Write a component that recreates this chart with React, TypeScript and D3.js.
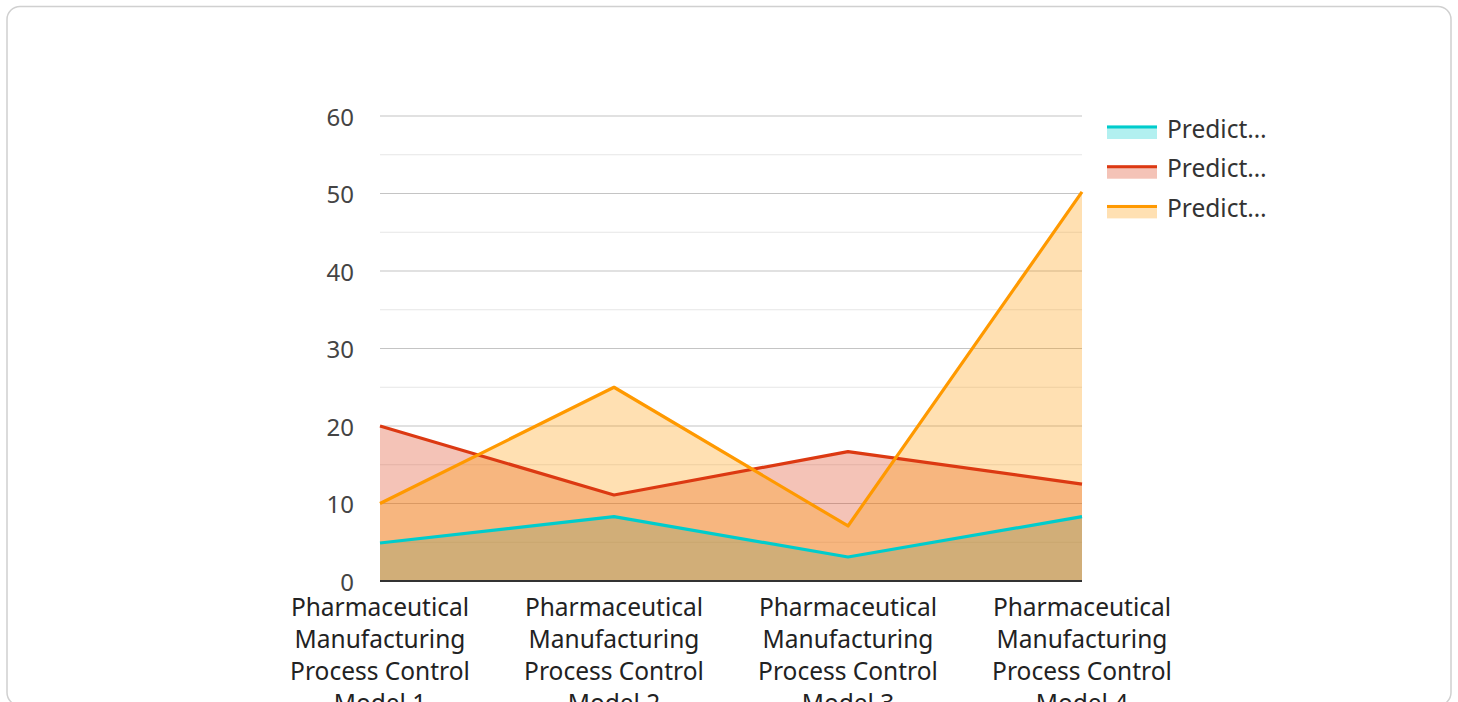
import React from "react";
import * as d3 from "d3";

const categories = [
  "Pharmaceutical Manufacturing Process Control Model 1",
  "Pharmaceutical Manufacturing Process Control Model 2",
  "Pharmaceutical Manufacturing Process Control Model 3",
  "Pharmaceutical Manufacturing Process Control Model 4",
];
const categoryLines = [
  ["Pharmaceutical", "Manufacturing", "Process Control", "Model 1"],
  ["Pharmaceutical", "Manufacturing", "Process Control", "Model 2"],
  ["Pharmaceutical", "Manufacturing", "Process Control", "Model 3"],
  ["Pharmaceutical", "Manufacturing", "Process Control", "Model 4"],
];
const seriesNames = ["Predicted 1", "Predicted 2", "Predicted 3"];
const seriesA = [4.9, 8.3, 3.1, 8.3];
const seriesB = [20, 11.1, 16.7, 12.5];
const seriesC = [10, 25, 7.1, 50.2];
const seriesColors = ["#00cccc", "#dc3912", "#ff9900"];
const yTicks = [0, 10, 20, 30, 40, 50, 60];
const yMinorTicks = [5, 15, 25, 35, 45, 55];

const W = 1458;
const H = 720;
const left = 380;
const right = 1082;
const top = 116;
const bottom = 581;
const font = "'Noto Sans', 'Open Sans', sans-serif";

export default function App() {
  const x = d3.scalePoint<number>().domain([0, 1, 2, 3]).range([left, right]);
  const y = d3.scaleLinear().domain([0, 60]).range([bottom, top]);
  const series = [seriesA, seriesB, seriesC];
  const area = d3
    .area<number>()
    .x((_, i) => x(i) as number)
    .y0(y(0))
    .y1((d) => y(d));
  const line = d3
    .line<number>()
    .x((_, i) => x(i) as number)
    .y((d) => y(d));

  return (
    <svg
      width={W}
      height={H}
      style={{ position: "absolute", left: 0, top: 0, fontFamily: font }}
    >
      <rect x={0} y={0} width={W} height={H} fill="#fff" />
      <rect
        x={7}
        y={6.5}
        width={1444}
        height={699}
        rx={13}
        fill="#fff"
        stroke="#d0d0d0"
        strokeWidth={1.5}
      />
      {yMinorTicks.map((t) => (
        <line key={"m" + t} x1={left} x2={right} y1={y(t)} y2={y(t)} stroke="#e6e6e6" strokeWidth={1.2} />
      ))}
      {yTicks.filter((t) => t !== 0).map((t) => (
        <line key={"g" + t} x1={left} x2={right} y1={y(t)} y2={y(t)} stroke="#c4c4c4" strokeWidth={1.2} />
      ))}
      {series.map((s, i) => (
        <path key={"a" + i} d={area(s) as string} fill={seriesColors[i]} fillOpacity={0.3} />
      ))}
      {series.map((s, i) => (
        <path
          key={"l" + i}
          d={line(s) as string}
          fill="none"
          stroke={seriesColors[i]}
          strokeWidth={3.2}
          strokeLinejoin="round"
        />
      ))}
      <line x1={left} x2={right} y1={y(0)} y2={y(0)} stroke="#333" strokeWidth={2} />
      {yTicks.map((t) => (
        <text
          key={"t" + t}
          x={354}
          y={y(t)}
          textAnchor="end"
          dominantBaseline="central"
          fontSize={24}
          fill="#444"
        >
          {t}
        </text>
      ))}
      {categories.map((c, i) => (
        <text key={"c" + i} textAnchor="middle" fontSize={24.5} fill="#222">
          {categoryLines[i].map((ln, j) => (
            <tspan key={j} x={x(i) as number} y={616 + j * 32}>
              {ln}
            </tspan>
          ))}
        </text>
      ))}
      {seriesNames.map((n, i) => (
        <g key={"lg" + i} transform={`translate(1107, ${125.5 + i * 39.7})`}>
          <rect x={0} y={0} width={50} height={13.5} fill={seriesColors[i]} fillOpacity={0.3} />
          <line x1={0} x2={50} y1={1.5} y2={1.5} stroke={seriesColors[i]} strokeWidth={3} />
          <text x={60} y={2.5} dominantBaseline="central" fontSize={24.5} fill="#333">
            {"Predict…"}
          </text>
        </g>
      ))}
    </svg>
  );
}
